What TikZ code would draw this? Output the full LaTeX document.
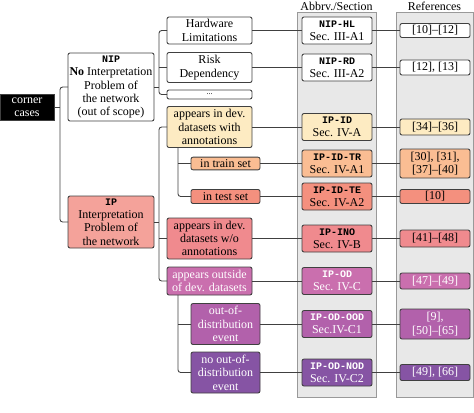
\documentclass[tikz,border=0pt]{standalone}
\usepackage{fontspec}
\setmainfont{Liberation Serif}
\setmonofont{Liberation Mono}
\definecolor{cIP}{HTML}{F4A29A}
\definecolor{cYel}{HTML}{FDEBC2}
\definecolor{cTR}{HTML}{FABD93}
\definecolor{cTE}{HTML}{F4907E}
\definecolor{cINO}{HTML}{F08A8E}
\definecolor{cOD}{HTML}{CA6FAE}
\definecolor{cOOD}{HTML}{B261AB}
\definecolor{cNOD}{HTML}{8654A4}
\newcommand{\abbtt}[1]{{\fontsize{7.5}{8}\selectfont\ttfamily\bfseries #1}}
\begin{document}
\begin{tikzpicture}[x=0.75pt,y=-0.75pt,
  every node/.style={font=\fontsize{9}{10}\selectfont},
  box/.style={draw=black!75, line width=0.65pt, rounded corners=1.5pt, align=center, inner sep=0pt, outer sep=0pt},
  lbox/.style={box, minimum width=63.75pt},
  sbox/.style={box, minimum width=51.75pt},
  abox/.style={box, minimum width=52.5pt, minimum height=20.25pt},
  rbox/.style={box, minimum width=52.5pt},
  col/.style={draw=black!40, line width=0.65pt, fill=black!9, inner sep=0pt},
  conn/.style={draw=black!75, line width=0.65pt, rounded corners=2pt}]
\useasboundingbox (0,0) rectangle (474,412);

% columns
\node[col, minimum width=59.25pt, minimum height=288.75pt] (colA) at (336.5,204.5) {};
\node[col, minimum width=57.75pt, minimum height=288.75pt] (colB) at (434.5,204.5) {};
\node (hA) at (336.5,6) {Abbrv./Section};
\node (hB) at (434.5,6) {References};

% root and level 1
\node[box, rounded corners=0pt, fill=black, text=white, minimum width=40.5pt, minimum height=19.5pt] (cc) at (27,107) {corner\\cases};
\node[box, fill=white, minimum width=64.5pt, minimum height=51pt] (nip) at (111,87) {\abbtt{NIP}\\\textbf{No} Interpretation\\Problem of\\the network\\(out of scope)};
\node[box, fill=cIP, minimum width=64.5pt, minimum height=39pt] (ip) at (111,222) {\abbtt{IP}\\Interpretation\\Problem of\\the network};

% level 2
\node[lbox, fill=white, minimum height=20.25pt] (hw) at (209.5,30.5) {Hardware\\Limitations};
\node[lbox, fill=white, minimum height=22.5pt] (rd) at (209.5,67.5) {Risk\\Dependency};
\node[lbox, fill=white, minimum height=6.75pt] (dots) at (209.5,94.5) {\fontsize{6}{6}\selectfont ...};
\node[lbox, fill=cYel, minimum height=30.75pt] (yel) at (209.5,127) {appears in dev.\\datasets with\\annotations};
\node[sbox, fill=cTR, minimum height=9.5pt] (tr) at (225.5,163.5) {in train set};
\node[sbox, fill=cTE, minimum height=10.5pt] (te) at (225.5,196.5) {in test set};
\node[lbox, fill=cINO, minimum height=30.75pt] (ino) at (209.5,238.5) {appears in dev.\\datasets w/o\\annotations};
\node[lbox, fill=cOD, text=white, minimum height=21pt] (od) at (209.5,281) {appears outside\\of dev. datasets};
\node[sbox, fill=cOOD, text=white, minimum height=30.75pt] (ood) at (225.5,324) {out-of-\\distribution\\event};
\node[sbox, fill=cNOD, text=white, minimum height=30.75pt] (nod) at (225.5,372.5) {no out-of-\\distribution\\event};

% abbreviation column
\node[abox, fill=white] (hlA) at (337,30.5) {\abbtt{NIP-HL}\\Sec. III-A1};
\node[abox, fill=white] (rdA) at (337,67.5) {\abbtt{NIP-RD}\\Sec. III-A2};
\node[abox, fill=cYel] (idA) at (337,127) {\abbtt{IP-ID}\\Sec. IV-A};
\node[abox, fill=cTR] (trA) at (337,163.5) {\abbtt{IP-ID-TR}\\Sec. IV-A1};
\node[abox, fill=cTE] (teA) at (337,196.5) {\abbtt{IP-ID-TE}\\Sec. IV-A2};
\node[abox, fill=cINO] (inoA) at (337,238.5) {\abbtt{IP-INO}\\Sec. IV-B};
\node[abox, fill=cOD, text=white] (odA) at (337,281) {\abbtt{IP-OD}\\Sec. IV-C};
\node[abox, fill=cOOD, text=white] (oodA) at (337,324) {\abbtt{IP-OD-OOD}\\Sec.IV-C1};
\node[abox, fill=cNOD, text=white] (nodA) at (337,372.5) {\abbtt{IP-OD-NOD}\\Sec. IV-C2};

% references column
\node[rbox, fill=white, minimum height=10.5pt] (hlR) at (435,30.5) {[10]--[12]};
\node[rbox, fill=white, minimum height=11.25pt] (rdR) at (435,67.5) {[12], [13]};
\node[rbox, fill=cYel, minimum height=12pt] (idR) at (435,127) {[34]--[36]};
\node[rbox, fill=cTR, minimum height=21.75pt] (trR) at (435,163.5) {[30], [31],\\{}[37]--[40]};
\node[rbox, fill=cTE, minimum height=10.5pt] (teR) at (435,196.5) {[10]};
\node[rbox, fill=cINO, minimum height=12.75pt] (inoR) at (435,238.5) {[41]--[48]};
\node[rbox, fill=cOD, text=white, minimum height=12pt] (odR) at (435,281) {[47]--[49]};
\node[rbox, fill=cOOD, text=white, minimum height=22.5pt] (oodR) at (435,324) {[9],\\{}[50]--[65]};
\node[rbox, fill=cNOD, text=white, minimum height=12pt] (nodR) at (435,372.5) {[49], [66]};

% tree connectors
\coordinate (j1) at (60,107);
\draw[conn] (cc.east) -- (j1);
\draw[conn] (nip.west) -- (nip.west -| j1) |- (ip.west);
\coordinate (j2) at (159,87);
\draw[conn] (nip.east) -- (j2);
\draw[conn] (hw.west) -- (hw.west -| j2) |- (dots.west);
\draw[conn] (rd.west) -- (rd.west -| j2);
\coordinate (j3) at (159,222);
\draw[conn] (ip.east) -- (j3);
\draw[conn] (yel.west) -- (yel.west -| j3) |- (od.west);
\draw[conn] (ino.west) -- (ino.west -| j3);
\coordinate (j4) at ([xshift=8.25pt]yel.south west);
\draw[conn] (j4) |- (te.west);
\draw[conn] (tr.west) -- (tr.west -| j4);
\coordinate (j5) at ([xshift=8.25pt]od.south west);
\draw[conn] (j5) |- (nod.west);
\draw[conn] (ood.west) -- (ood.west -| j5);

% row connectors
\foreach \l/\a/\r in {hw/hlA/hlR, rd/rdA/rdR, yel/idA/idR, tr/trA/trR, te/teA/teR, ino/inoA/inoR, od/odA/odR, ood/oodA/oodR, nod/nodA/nodR}{
  \draw[conn] (\l.east) -- (\a.west);
  \draw[conn] (\a.east) -- (\r.west);
}
\end{tikzpicture}
\end{document}
